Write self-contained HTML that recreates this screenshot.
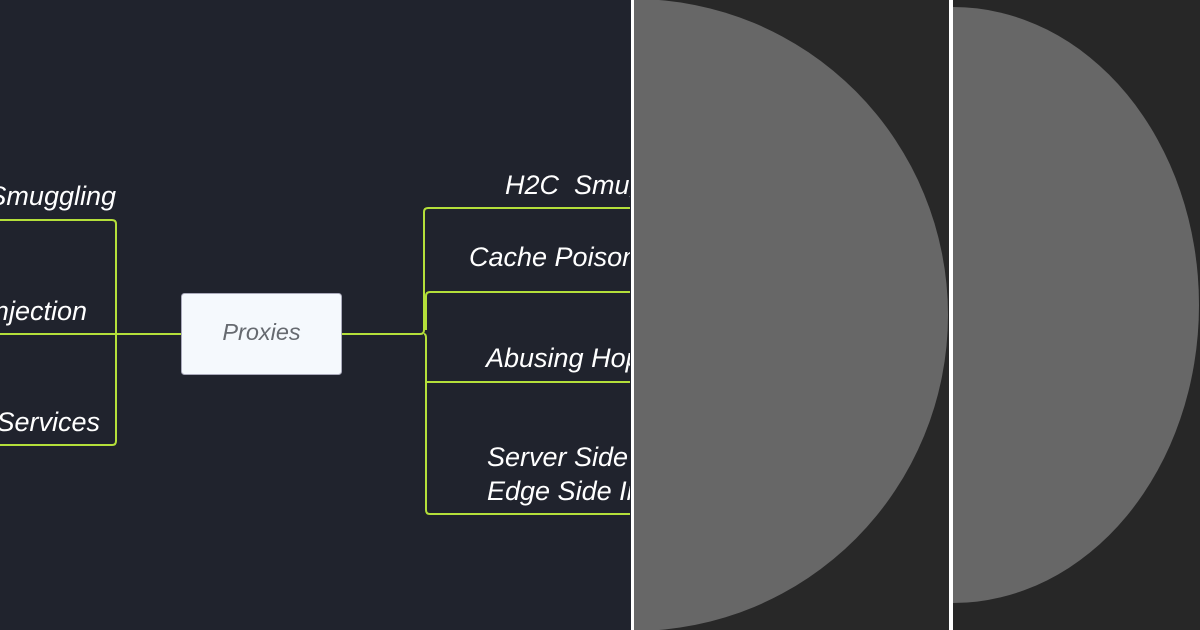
<!DOCTYPE html>
<html><head><style>
html,body{margin:0;padding:0;width:1200px;height:630px;overflow:hidden;background:#272727}
</style></head><body>
<svg width="1200" height="630" xmlns="http://www.w3.org/2000/svg" style="position:absolute;left:0;top:0">
<rect x="0" y="0" width="631" height="630" fill="#20232d"/>
<rect x="631" y="0" width="3" height="630" fill="#ffffff"/>
<rect x="634" y="0" width="315" height="630" fill="#282828"/>
<rect x="949" y="0" width="4" height="630" fill="#ffffff"/>
<rect x="953" y="0" width="247" height="630" fill="#272727"/>
<clipPath id="c1"><rect x="634" y="0" width="315" height="630"/></clipPath>
<clipPath id="c2"><rect x="953" y="0" width="247" height="630"/></clipPath>
<ellipse cx="634" cy="315" rx="314" ry="316" fill="#676767" clip-path="url(#c1)"/>
<ellipse cx="953" cy="305" rx="246" ry="298" fill="#676767" clip-path="url(#c2)"/>
<clipPath id="c0"><rect x="0" y="0" width="630" height="630"/></clipPath>
<g clip-path="url(#c0)" stroke="#b4df3a" stroke-width="2" fill="none">
<path d="M0 220 H112 Q116 220 116 224 V441 Q116 445 112 445 H0"/>
<path d="M0 334 H181"/>
<path d="M342 334 H420 Q424 334 424 330 V212 Q424 208 428 208 H630"/>
<path d="M424 334 Q426 334 426 338 V510 Q426 514 430 514 H630"/>
<path d="M426 330 V296 Q426 292 430 292 H630"/>
<path d="M426 382 H630"/>
</g>
<rect x="181.5" y="293.5" width="160" height="81" rx="3" fill="#f5f9fd" stroke="#aab" stroke-width="1"/>
<g font-family="Liberation Sans, sans-serif" font-style="italic" fill="#ffffff" font-size="27" clip-path="url(#c0)">
<text x="116" y="205" text-anchor="end">Smuggling</text>
<text x="87" y="320" text-anchor="end">Injection</text>
<text x="100" y="431" text-anchor="end">Services</text>
<text x="505" y="194">H2C&#160;&#160;Smuggling</text>
<text x="469" y="266">Cache Poisoning</text>
<text x="486" y="367">Abusing Hop-by-hop</text>
<text x="487" y="466">Server Side Inclusion/</text>
<text x="487" y="500">Edge Side Inclusion</text>
</g>
<text x="261.5" y="340" text-anchor="middle" font-family="Liberation Sans, sans-serif" font-style="italic" font-size="23.5" fill="#666a70">Proxies</text>
</svg>
</body></html>
